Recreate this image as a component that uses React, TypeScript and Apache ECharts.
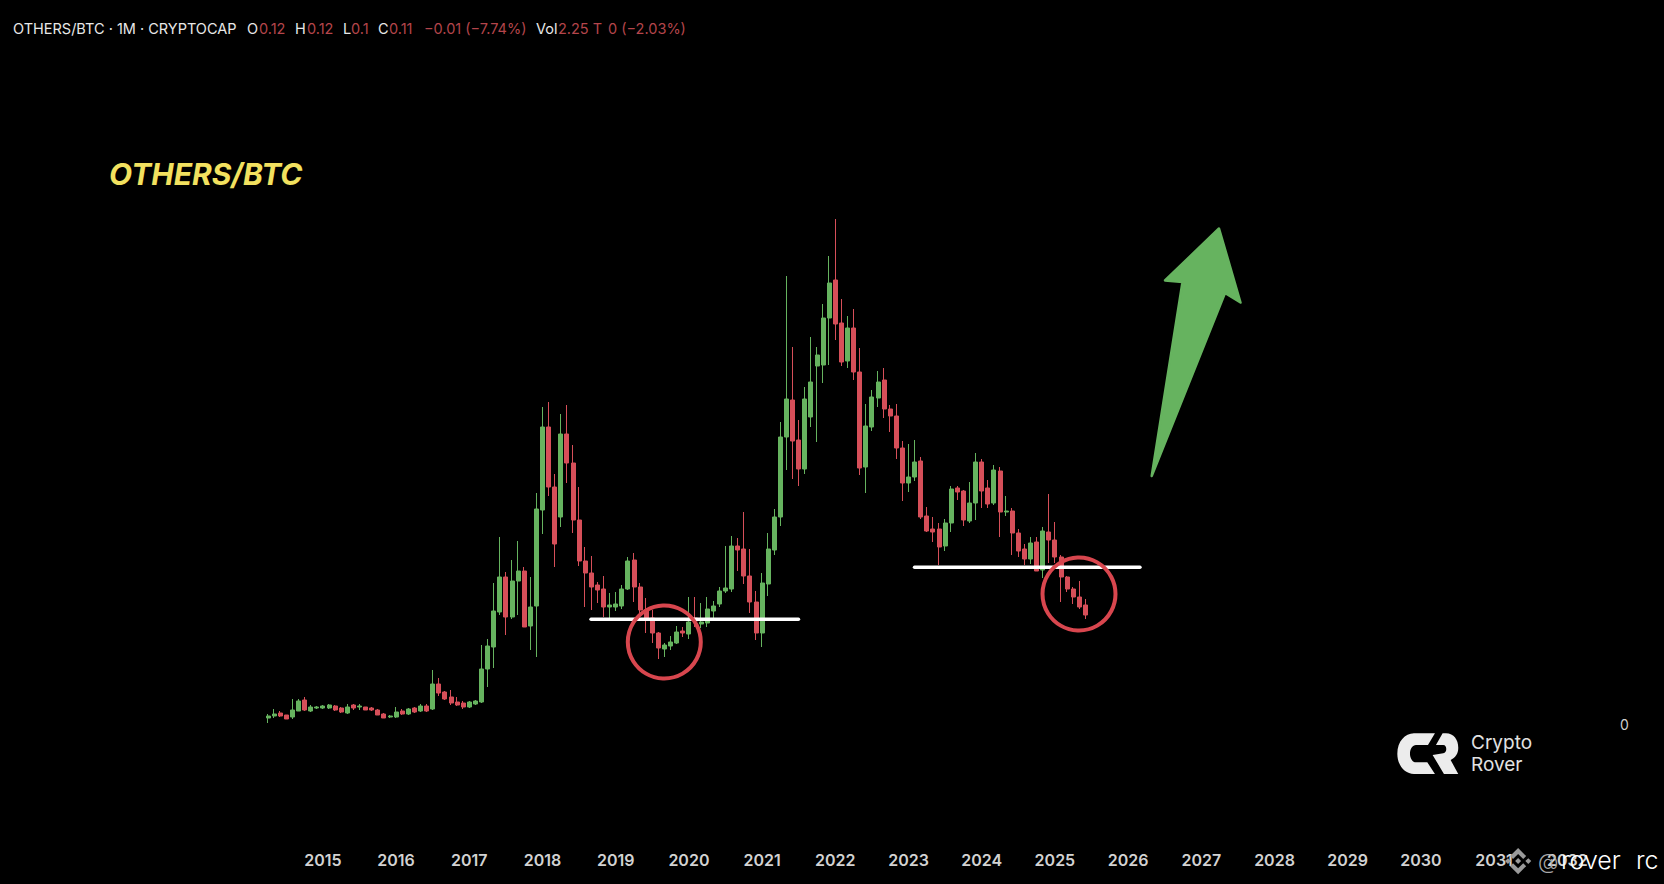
import React, { useEffect, useRef } from "react";
import * as echarts from "echarts";

// Monthly OHLC, in thousandths of a BTC ratio, April 2014 to June 2025.
const opens = [6,8,11,9,7,13,24,13,16,16,16,18,16,11,19,17,17,16,14,10,7,7,13,10,16,13,18,15,40,32,27,22,21,17,20,22,55,77,112,147,107,143,153,98,118,214,297,237,207,290,261,204,163,151,139,135,117,117,118,135,164,137,114,106,91,75,78,81,93,90,106,100,101,113,120,133,135,178,175,148,122,91,140,174,207,287,324,284,255,307,358,359,406,444,401,363,396,352,257,297,326,344,315,308,276,241,247,263,208,195,195,178,201,236,233,203,221,262,236,221,253,212,213,191,175,165,182,154,192,184,167,147,135,127,119];
const closes = [8,10,8,5,14,23,14,17,17,18,19,14,12,17,16,18,14,14,9,6,8,12,10,15,12,18,13,40,31,25,21,19,17,22,23,55,78,113,147,107,143,153,97,117,215,297,237,180,290,261,204,163,151,137,134,117,119,120,135,163,137,114,104,91,76,79,82,92,91,102,103,102,115,118,133,136,178,174,148,122,91,141,175,207,287,325,283,255,325,342,369,406,441,400,362,396,352,256,298,327,342,315,308,276,241,247,262,207,193,192,177,201,235,232,204,221,262,233,220,254,212,213,191,173,165,181,153,193,184,167,147,135,127,117,109];
const lows = [1,6,7,5,5,13,13,12,15,15,15,13,11,10,14,14,14,13,9,6,6,6,9,9,11,12,12,14,28,24,19,18,15,16,19,21,37,56,109,89,105,109,97,74,67,190,228,157,197,241,191,158,117,114,121,107,104,113,115,134,122,106,91,81,65,67,74,80,87,85,97,96,97,104,117,131,132,153,140,111,84,77,128,169,198,254,245,238,250,297,282,341,359,384,358,356,344,249,231,293,317,306,292,265,223,232,243,205,192,182,159,173,192,224,198,201,204,216,216,219,187,208,169,167,159,160,153,146,161,161,122,132,120,115,105];
const highs = [10,15,13,9,25,25,27,19,18,19,20,19,17,20,20,20,17,17,15,11,9,17,15,16,17,20,20,54,46,33,34,27,23,23,24,79,85,141,187,152,164,183,157,147,231,317,322,250,310,319,279,237,177,168,142,148,131,132,139,167,171,141,126,114,92,81,88,98,97,127,127,121,127,123,137,178,188,186,212,175,133,151,191,215,302,448,377,304,337,387,377,420,468,505,425,408,415,376,320,334,353,356,319,320,283,280,284,267,217,207,201,205,238,238,234,242,271,265,244,259,257,228,216,195,180,187,187,197,230,202,169,148,137,143,125];

const firstYear = 2014;
const firstMonth = 4;
const monthCount = 225;
const months: string[] = [];
for (let i = 0; i < monthCount; i++) {
  const m = firstMonth - 1 + i;
  months.push(`${firstYear + Math.floor(m / 12)}-${String((m % 12) + 1).padStart(2, "0")}`);
}

const GREEN = "#66b35f";
const RED = "#d64f59";
const WHITE = "#e8e8e8";
const DIM = "#b4454b";

const headerParts: [string, number, string][] = [
  ["OTHERS/BTC · 1M · CRYPTOCAP", 13, WHITE],
  ["O", 247, WHITE],
  ["0.12", 259, DIM],
  ["H", 295, WHITE],
  ["0.12", 307, DIM],
  ["L", 343, WHITE],
  ["0.1", 351, DIM],
  ["C", 378, WHITE],
  ["0.11", 389, DIM],
  ["−0.01 (−7.74%)", 424, DIM],
  ["Vol", 536, WHITE],
  ["2.25 T", 558, DIM],
  ["0 (−2.03%)", 608, DIM],
];

const LOGO_C =
  "M135 25 L72 25 C45 25 22 50 22 86 C22 122 45 147 72 147 L135 147 L112 112 L78 112 C68 112 60 100 60 86 C60 72 68 60 78 60 L114 60 Z";
const LOGO_R =
  "M158 25 L168 25 C192 25 205 45 205 68 C205 86 196 98 182 105 L205 147 L162 147 L128 90 L160 85 C172 84 172 60 160 60 L138 60 Z";
const BINANCE =
  "M9.79 13.44 L16 7.23 L22.21 13.44 L25.82 9.83 L16 0 L6.18 9.83 Z M3.61 12.39 L7.22 16 L3.61 19.61 L0 16 Z M16 12.34 L19.66 16 L16 19.66 L12.34 16 Z M28.39 12.39 L32 16 L28.39 19.61 L24.78 16 Z M22.21 18.55 L16 24.77 L9.79 18.56 L6.18 22.16 L16 32 L25.82 22.17 Z";

echarts.graphic.registerShape("crLogo", echarts.graphic.extendPath(LOGO_C + " " + LOGO_R, {}) as any);
echarts.graphic.registerShape("bnbLogo", echarts.graphic.extendPath(BINANCE, {}) as any);

const txt = (text: string, x: number, y: number, fontSize: number, fill: string, extra: any = {}) => ({
  type: "text",
  x,
  y,
  z: 20,
  style: { text, fontSize, fill, fontFamily: "Inter", textVerticalAlign: "middle", ...extra },
});

export default function App() {
  const ref = useRef<HTMLDivElement>(null);
  useEffect(() => {
    const chart = echarts.init(ref.current!, undefined, { renderer: "svg" });
    chart.setOption({
      animation: false,
      backgroundColor: "#000000",
      grid: { left: 264.95, top: 0, width: 1372.5, height: 724, containLabel: false },
      xAxis: {
        type: "category",
        data: months,
        boundaryGap: true,
        axisLine: { show: false },
        axisTick: { show: false },
        splitLine: { show: false },
        axisLabel: {
          interval: (_: number, v: string) => v.endsWith("-01"),
          formatter: (v: string) => v.slice(0, 4),
          margin: 128,
          color: "#d2d2d2",
          fontFamily: "Inter",
          fontWeight: 600,
          fontSize: 16,
          hideOverlap: false,
        },
      },
      yAxis: {
        type: "value",
        position: "right",
        min: 0,
        max: 724,
        interval: 724,
        axisLine: { show: false },
        axisTick: { show: false },
        splitLine: { show: false },
        axisLabel: {
          inside: true,
          margin: 8.6,
          color: "#cfcfcf",
          fontFamily: "Inter",
          fontSize: 14,
          formatter: (v: number) => (v === 0 ? "0" : ""),
        },
      },
      series: [
        {
          type: "candlestick",
          barWidth: 4.5,
          data: opens.map((o, i) => [o, closes[i], lows[i], highs[i]]),
          itemStyle: {
            color: GREEN,
            color0: RED,
            borderColor: GREEN,
            borderColor0: RED,
            borderWidth: 1,
          },
        },
      ],
      graphic: [
        ...headerParts.map(([t, x, c]) => txt(t, x, 28, 14.5, c)),
        txt("OTHERS/BTC", 109, 174, 30, "#f2e15f", { fontWeight: 700, fontStyle: "italic" }),
        {
          type: "line",
          z: 10,
          shape: { x1: 591, y1: 619.3, x2: 798.5, y2: 619.3 },
          style: { stroke: "#ffffff", lineWidth: 3.4, lineCap: "round" },
        },
        {
          type: "line",
          z: 10,
          shape: { x1: 914.5, y1: 567.2, x2: 1140, y2: 567.2 },
          style: { stroke: "#ffffff", lineWidth: 3.4, lineCap: "round" },
        },
        {
          type: "circle",
          z: 11,
          shape: { cx: 664.3, cy: 642, r: 36.5 },
          style: { fill: "none", stroke: "#d8464e", lineWidth: 4 },
        },
        {
          type: "circle",
          z: 11,
          shape: { cx: 1079, cy: 594, r: 36.5 },
          style: { fill: "none", stroke: "#d8464e", lineWidth: 4 },
        },
        {
          type: "polygon",
          z: 11,
          shape: {
            points: [
              [1151.7, 476],
              [1182.5, 282],
              [1165, 280.5],
              [1219, 228.5],
              [1240.5, 302.5],
              [1225, 293],
            ],
          },
          style: { fill: GREEN, stroke: GREEN, lineWidth: 2.5, lineJoin: "round" },
        },
        {
          type: "crLogo",
          z: 12,
          x: 1390,
          y: 725,
          scaleX: 1 / 3,
          scaleY: 1 / 3,
          style: { fill: "#ececec" },
        },
        txt("Crypto", 1471, 742.5, 19, "#e2e2e2"),
        txt("Rover", 1471, 764, 19, "#e2e2e2"),
        {
          type: "bnbLogo",
          z: 30,
          x: 1505,
          y: 848,
          scaleX: 0.82,
          scaleY: 0.82,
          style: { fill: "#9a9a9a" },
        },
        txt("@", 1538, 861, 21, "#a8a8a8", { fontWeight: 300 }),
        txt("rover", 1561, 860, 25, "#ffffff", { fontWeight: 300 }),
        txt("rc", 1636, 860, 25, "#ffffff", { fontWeight: 300 }),
      ],
    });
    return () => chart.dispose();
  }, []);
  return (
    <div
      ref={ref}
      style={{ position: "fixed", left: 0, top: 0, width: 1664, height: 884, background: "#000" }}
    />
  );
}
